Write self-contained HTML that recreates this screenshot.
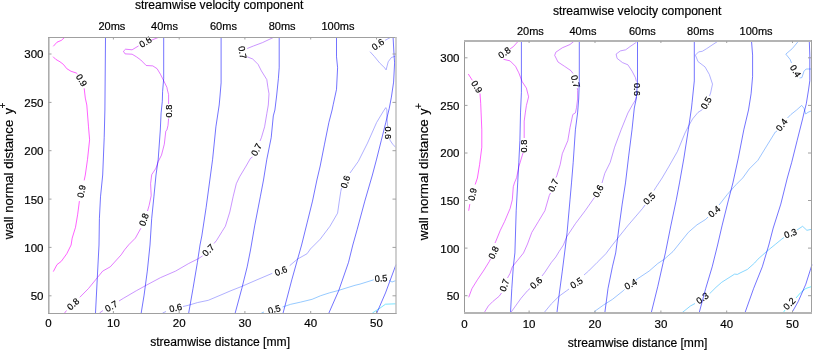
<!DOCTYPE html>
<html><head><meta charset="utf-8"><title>streamwise velocity component</title>
<style>html,body{margin:0;padding:0;background:#fff;width:813px;height:350px;overflow:hidden}svg{display:block}text{stroke:#000;stroke-width:.18px}</style>
</head><body>
<svg width="813" height="350" viewBox="0 0 813 350" font-family='"Liberation Sans", Arial, Helvetica, sans-serif' fill="#000"><polyline points="64.6,37.5 61.3,40.4 57.0,42.2 53.3,46.3" fill="none" stroke="#ff00ff" stroke-width="1.0" stroke-opacity="0.62" stroke-linejoin="round"/>
<polyline points="53.1,56.7 55.7,59.3 60.0,61.8 63.4,64.4 66.8,68.7 71.1,71.3 76.3,73.0 77.5,74.2" fill="none" stroke="#ff00ff" stroke-width="1.0" stroke-opacity="0.62" stroke-linejoin="round"/>
<text x="81.4" y="80.3" transform="rotate(58 81.4 80.3)" font-size="9.2" text-anchor="middle" dominant-baseline="central" stroke="#000" stroke-width="0.25">0.9</text>
<polyline points="84.2,88.3 85.3,98.1 86.8,105.0 88.5,126.8 89.6,139.8 87.5,159.4 85.3,175.0 84.2,180.4" fill="none" stroke="#ff00ff" stroke-width="1.0" stroke-opacity="0.62" stroke-linejoin="round"/>
<text x="81.6" y="191.3" transform="rotate(-78 81.6 191.3)" font-size="9.2" text-anchor="middle" dominant-baseline="central" stroke="#000" stroke-width="0.25">0.9</text>
<polyline points="79.4,201.1 77.7,214.2 75.5,227.3 72.2,238.1 71.1,245.0 66.8,253.7 61.3,261.3 57.0,264.6 53.3,271.6" fill="none" stroke="#ff00ff" stroke-width="1.0" stroke-opacity="0.62" stroke-linejoin="round"/>
<polyline points="158.2,37.5 152.0,40.0" fill="none" stroke="#d42aff" stroke-width="1.0" stroke-opacity="0.62" stroke-linejoin="round"/>
<text x="145.6" y="42.2" transform="rotate(-32 145.6 42.2)" font-size="9.2" text-anchor="middle" dominant-baseline="central" stroke="#000" stroke-width="0.25">0.8</text>
<polyline points="138.6,45.9 132.1,49.8 125.6,49.2 123.4,51.3 125.1,53.9 132.1,54.2 136.4,56.8 140.8,60.0 146.2,65.5 152.8,65.9 157.1,68.7 160.4,74.2 163.7,80.7 166.9,87.3 167.4,90.0 168.6,94.6 168.6,104.0" fill="none" stroke="#d42aff" stroke-width="1.0" stroke-opacity="0.62" stroke-linejoin="round"/>
<text x="169.1" y="111" transform="rotate(-90 169.1 111)" font-size="9.2" text-anchor="middle" dominant-baseline="central" stroke="#000" stroke-width="0.25">0.8</text>
<polyline points="168.6,118.5 168.0,125.4 166.9,130.0 165.8,131.1 164.3,144.2 161.5,155.1 158.2,161.6 156.0,168.1 151.7,174.7 150.6,183.7 151.2,195.7 149.1,205.5 147.5,211.0" fill="none" stroke="#d42aff" stroke-width="1.0" stroke-opacity="0.62" stroke-linejoin="round"/>
<text x="144.1" y="219.6" transform="rotate(-70 144.1 219.6)" font-size="9.2" text-anchor="middle" dominant-baseline="central" stroke="#000" stroke-width="0.25">0.8</text>
<polyline points="140.8,228.3 135.4,238.1 128.8,244.7 124.5,249.9 121.2,254.8 110.3,266.8 102.7,271.1 97.3,277.7 88.5,288.5 79.8,297.3" fill="none" stroke="#d42aff" stroke-width="1.0" stroke-opacity="0.62" stroke-linejoin="round"/>
<text x="73.3" y="304.2" transform="rotate(-42 73.3 304.2)" font-size="9.2" text-anchor="middle" dominant-baseline="central" stroke="#000" stroke-width="0.25">0.8</text>
<polyline points="66.5,310.5 64.6,313.0" fill="none" stroke="#d42aff" stroke-width="1.0" stroke-opacity="0.62" stroke-linejoin="round"/>
<polyline points="273.3,37.5 262.5,42.6 253.7,45.9 247.2,48.5" fill="none" stroke="#aa55ff" stroke-width="1.0" stroke-opacity="0.62" stroke-linejoin="round"/>
<text x="242.3" y="52.5" transform="rotate(80 242.3 52.5)" font-size="9.2" text-anchor="middle" dominant-baseline="central" stroke="#000" stroke-width="0.25">0.7</text>
<polyline points="247.2,56.8 252.7,59.0 258.1,64.4 261.4,70.9 266.8,79.6 267.9,87.3 269.0,93.8 268.3,105.0 266.8,113.7 264.6,126.8 261.4,137.7 260.0,141.0" fill="none" stroke="#aa55ff" stroke-width="1.0" stroke-opacity="0.62" stroke-linejoin="round"/>
<text x="256.6" y="149.6" transform="rotate(-62 256.6 149.6)" font-size="9.2" text-anchor="middle" dominant-baseline="central" stroke="#000" stroke-width="0.25">0.7</text>
<polyline points="252.5,157.0 250.5,158.3 246.1,166.0 239.6,176.8 236.3,183.7 233.1,196.8 229.8,212.0 225.4,226.2 222.0,231.6 216.5,240.5 214.0,243.5" fill="none" stroke="#aa55ff" stroke-width="1.0" stroke-opacity="0.62" stroke-linejoin="round"/>
<text x="208.5" y="250.3" transform="rotate(-45 208.5 250.3)" font-size="9.2" text-anchor="middle" dominant-baseline="central" stroke="#000" stroke-width="0.25">0.7</text>
<polyline points="202.6,255.9 198.3,258.7 188.7,263.5 175.6,271.1 160.4,277.7 146.2,285.3 136.4,290.7 123.4,298.3 119.0,301.0" fill="none" stroke="#aa55ff" stroke-width="1.0" stroke-opacity="0.62" stroke-linejoin="round"/>
<text x="111.4" y="306.4" transform="rotate(-30 111.4 306.4)" font-size="9.2" text-anchor="middle" dominant-baseline="central" stroke="#000" stroke-width="0.25">0.7</text>
<polyline points="103.0,310.5 99.5,313.0" fill="none" stroke="#aa55ff" stroke-width="1.0" stroke-opacity="0.62" stroke-linejoin="round"/>
<polyline points="390.4,37.5 385.0,40.4" fill="none" stroke="#8080ff" stroke-width="1.0" stroke-opacity="0.62" stroke-linejoin="round"/>
<text x="378.1" y="44.6" transform="rotate(-35 378.1 44.6)" font-size="9.2" text-anchor="middle" dominant-baseline="central" stroke="#000" stroke-width="0.25">0.6</text>
<polyline points="370.0,51.7 374.3,56.4 379.6,62.9 385.0,68.2 386.1,69.9 388.2,61.8 391.4,57.5 396.0,56.0" fill="none" stroke="#8080ff" stroke-width="1.0" stroke-opacity="0.62" stroke-linejoin="round"/>
<polyline points="396.0,147.7 392.7,144.2 390.4,140.8 389.5,139.0" fill="none" stroke="#8080ff" stroke-width="1.0" stroke-opacity="0.62" stroke-linejoin="round"/>
<text x="388.1" y="132.8" transform="rotate(90 388.1 132.8)" font-size="9.2" text-anchor="middle" dominant-baseline="central" stroke="#000" stroke-width="0.25">0.6</text>
<polyline points="387.5,126.0 386.9,115.6 386.9,109.9 385.8,107.6 383.5,111.0 376.6,122.5 367.5,143.1 358.3,161.4 350.0,173.0" fill="none" stroke="#8080ff" stroke-width="1.0" stroke-opacity="0.62" stroke-linejoin="round"/>
<text x="345.5" y="182" transform="rotate(-70 345.5 182)" font-size="9.2" text-anchor="middle" dominant-baseline="central" stroke="#000" stroke-width="0.25">0.6</text>
<polyline points="341.5,188.0 340.8,191.3 339.3,201.1 337.6,213.1 330.0,226.2 320.2,239.2 310.4,249.0 307.1,253.7 297.3,259.2 289.7,265.7" fill="none" stroke="#8080ff" stroke-width="1.0" stroke-opacity="0.62" stroke-linejoin="round"/>
<text x="281" y="271.1" transform="rotate(-22 281 271.1)" font-size="9.2" text-anchor="middle" dominant-baseline="central" stroke="#000" stroke-width="0.25">0.6</text>
<polyline points="272.3,273.3 257.0,279.8 241.8,286.4 230.9,290.7 222.0,294.5 208.3,300.3 197.4,302.6 188.7,305.2 183.0,306.5" fill="none" stroke="#8080ff" stroke-width="1.0" stroke-opacity="0.62" stroke-linejoin="round"/>
<text x="175.6" y="308.1" transform="rotate(-12 175.6 308.1)" font-size="9.2" text-anchor="middle" dominant-baseline="central" stroke="#000" stroke-width="0.25">0.6</text>
<polyline points="166.0,311.5 162.6,313.0" fill="none" stroke="#8080ff" stroke-width="1.0" stroke-opacity="0.62" stroke-linejoin="round"/>
<polyline points="389.0,280.3 392.0,282.0 396.0,280.5" fill="none" stroke="#55aaff" stroke-width="1.0" stroke-opacity="0.62" stroke-linejoin="round"/>
<text x="381" y="278.5" transform="rotate(-5 381 278.5)" font-size="9.2" text-anchor="middle" dominant-baseline="central" stroke="#000" stroke-width="0.25">0.5</text>
<polyline points="373.7,279.8 360.0,284.1 355.0,285.3 337.6,290.7 329.3,292.9 320.7,295.7 312.1,299.3 300.7,302.1 290.7,304.3 282.5,307.0" fill="none" stroke="#55aaff" stroke-width="1.0" stroke-opacity="0.62" stroke-linejoin="round"/>
<text x="274.3" y="309.6" transform="rotate(-15 274.3 309.6)" font-size="9.2" text-anchor="middle" dominant-baseline="central" stroke="#000" stroke-width="0.25">0.5</text>
<polyline points="264.0,312.0 261.4,313.0" fill="none" stroke="#55aaff" stroke-width="1.0" stroke-opacity="0.62" stroke-linejoin="round"/>
<polyline points="396.0,303.8 385.5,304.2 380.0,308.1 372.4,313.0" fill="none" stroke="#2ad4ff" stroke-width="1.0" stroke-opacity="0.62" stroke-linejoin="round"/>
<polyline points="105.5,37.5 104.9,110.0 104.2,137.7 102.7,175.0 100.5,196.8 99.4,218.5 99.0,245.0 97.3,277.7 95.5,313.0" fill="none" stroke="#0000ff" stroke-width="1.0" stroke-opacity="0.55" stroke-linejoin="round"/>
<polyline points="163.7,37.5 163.7,78.5 162.6,91.6 162.3,101.4 161.1,112.9 160.3,130.0 158.2,159.4 156.0,175.0 153.9,196.8 151.7,218.5 150.0,245.0 147.3,271.1 144.1,295.1 141.2,313.0" fill="none" stroke="#0000ff" stroke-width="1.0" stroke-opacity="0.55" stroke-linejoin="round"/>
<polyline points="221.1,37.5 221.1,82.9 220.0,96.0 219.2,105.0 215.9,126.8 212.6,159.4 210.5,175.0 206.1,207.7 201.8,236.0 200.0,245.0 197.4,262.4 193.0,288.5 188.7,313.0" fill="none" stroke="#0000ff" stroke-width="1.0" stroke-opacity="0.55" stroke-linejoin="round"/>
<polyline points="279.2,37.5 279.2,67.7 278.4,78.5 276.6,96.0 274.9,110.0 273.3,115.9 271.2,137.7 266.8,159.4 263.5,180.0 260.3,196.8 254.8,225.1 250.5,250.0 247.2,266.8 241.8,288.5 235.2,313.0" fill="none" stroke="#0000ff" stroke-width="1.0" stroke-opacity="0.55" stroke-linejoin="round"/>
<polyline points="336.5,37.5 336.5,56.8 337.6,67.7 336.5,89.4 333.2,104.7 332.1,110.0 328.9,122.4 324.5,144.2 320.2,166.0 316.9,180.0 312.5,201.1 307.1,222.9 301.6,245.0 297.3,260.2 291.8,279.8 283.1,313.0" fill="none" stroke="#0000ff" stroke-width="1.0" stroke-opacity="0.55" stroke-linejoin="round"/>
<polyline points="393.1,37.5 394.0,54.3 394.6,62.9 393.6,82.1 391.4,97.1 389.2,108.7 385.8,122.5 381.2,140.8 376.6,159.1 372.4,175.0 364.8,201.1 357.2,229.4 352.8,245.0 348.5,262.4 338.7,290.7 328.9,313.0" fill="none" stroke="#0000ff" stroke-width="1.0" stroke-opacity="0.55" stroke-linejoin="round"/>
<polyline points="396.0,264.6 385.5,292.9 376.8,313.0" fill="none" stroke="#0000ff" stroke-width="1.0" stroke-opacity="0.55" stroke-linejoin="round"/>
<polyline points="468.3,74.0 472.3,80.3" fill="none" stroke="#ff00ff" stroke-width="1.0" stroke-opacity="0.62" stroke-linejoin="round"/>
<text x="476.6" y="86.8" transform="rotate(58 476.6 86.8)" font-size="9.2" text-anchor="middle" dominant-baseline="central" stroke="#000" stroke-width="0.25">0.9</text>
<polyline points="480.0,93.5 480.7,103.3 481.1,112.9 481.8,129.8 481.8,147.2 479.6,164.6 477.4,178.0 475.2,184.5" fill="none" stroke="#ff00ff" stroke-width="1.0" stroke-opacity="0.62" stroke-linejoin="round"/>
<text x="472.6" y="194.3" transform="rotate(-78 472.6 194.3)" font-size="9.2" text-anchor="middle" dominant-baseline="central" stroke="#000" stroke-width="0.25">0.9</text>
<polyline points="469.8,204.1 468.7,210.7" fill="none" stroke="#ff00ff" stroke-width="1.0" stroke-opacity="0.62" stroke-linejoin="round"/>
<polyline points="518.4,41.0 513.3,46.7 510.1,48.9" fill="none" stroke="#df20ff" stroke-width="1.0" stroke-opacity="0.62" stroke-linejoin="round"/>
<text x="504.6" y="52.8" transform="rotate(-35 504.6 52.8)" font-size="9.2" text-anchor="middle" dominant-baseline="central" stroke="#000" stroke-width="0.25">0.8</text>
<polyline points="503.5,59.3 510.1,60.9 515.5,66.3 518.8,72.8 522.1,81.5 526.4,88.1 528.6,96.8 526.4,105.5 525.3,112.9 524.2,121.1 524.2,138.0" fill="none" stroke="#df20ff" stroke-width="1.0" stroke-opacity="0.62" stroke-linejoin="round"/>
<text x="524.2" y="146.1" transform="rotate(-90 524.2 146.1)" font-size="9.2" text-anchor="middle" dominant-baseline="central" stroke="#000" stroke-width="0.25">0.8</text>
<polyline points="523.0,153.0 522.1,155.9 518.8,166.8 516.6,177.7 514.4,183.0 513.3,186.7 512.3,199.8 510.1,208.5 504.6,221.5 500.3,230.3 495.9,241.1 495.0,243.0" fill="none" stroke="#df20ff" stroke-width="1.0" stroke-opacity="0.62" stroke-linejoin="round"/>
<text x="493.7" y="252.6" transform="rotate(-65 493.7 252.6)" font-size="9.2" text-anchor="middle" dominant-baseline="central" stroke="#000" stroke-width="0.25">0.8</text>
<polyline points="490.5,259.0 489.4,261.3 484.0,270.0 477.4,279.8 472.0,288.5 468.7,297.3" fill="none" stroke="#df20ff" stroke-width="1.0" stroke-opacity="0.62" stroke-linejoin="round"/>
<polyline points="574.3,41.0 570.0,44.5 562.3,47.8 555.8,52.2 554.7,55.4 558.0,62.0 564.5,66.3 571.0,70.7 573.0,73.5" fill="none" stroke="#bf40ff" stroke-width="1.0" stroke-opacity="0.62" stroke-linejoin="round"/>
<text x="575.2" y="81.5" transform="rotate(75 575.2 81.5)" font-size="9.2" text-anchor="middle" dominant-baseline="central" stroke="#000" stroke-width="0.25">0.7</text>
<polyline points="577.3,88.0 577.6,90.3 577.6,99.0 576.5,107.7 575.4,112.9 572.8,114.5 570.0,127.6 567.8,140.7 562.3,153.7 560.2,164.6 556.9,175.5 556.0,177.5" fill="none" stroke="#bf40ff" stroke-width="1.0" stroke-opacity="0.62" stroke-linejoin="round"/>
<text x="553.4" y="185.5" transform="rotate(-65 553.4 185.5)" font-size="9.2" text-anchor="middle" dominant-baseline="central" stroke="#000" stroke-width="0.25">0.7</text>
<polyline points="550.5,193.0 549.3,195.4 544.9,210.7 538.4,221.5 531.8,232.4 527.5,244.0 523.5,253.0 517.7,260.2 512.3,266.8 510.1,273.3 507.5,278.0" fill="none" stroke="#bf40ff" stroke-width="1.0" stroke-opacity="0.62" stroke-linejoin="round"/>
<text x="504.6" y="285.3" transform="rotate(-70 504.6 285.3)" font-size="9.2" text-anchor="middle" dominant-baseline="central" stroke="#000" stroke-width="0.25">0.7</text>
<polyline points="501.5,293.0 499.2,296.2 492.7,301.6 488.3,306.0 484.0,313.0" fill="none" stroke="#bf40ff" stroke-width="1.0" stroke-opacity="0.62" stroke-linejoin="round"/>
<polyline points="636.4,42.3 630.0,46.6 625.7,49.8 620.4,50.9 616.1,54.1 617.1,58.4 622.5,62.6 627.9,64.8 632.1,71.2 635.4,77.6 636.4,81.5" fill="none" stroke="#9f60ff" stroke-width="1.0" stroke-opacity="0.62" stroke-linejoin="round"/>
<text x="636.9" y="89.4" transform="rotate(90 636.9 89.4)" font-size="9.2" text-anchor="middle" dominant-baseline="central" stroke="#000" stroke-width="0.25">0.6</text>
<polyline points="636.2,97.0 635.4,100.1 632.1,105.5 627.9,113.0 625.5,118.9 621.1,129.8 614.6,147.2 610.2,162.4 604.8,173.3 602.0,183.0" fill="none" stroke="#9f60ff" stroke-width="1.0" stroke-opacity="0.62" stroke-linejoin="round"/>
<text x="598.3" y="191.1" transform="rotate(-62 598.3 191.1)" font-size="9.2" text-anchor="middle" dominant-baseline="central" stroke="#000" stroke-width="0.25">0.6</text>
<polyline points="594.5,197.5 592.8,199.8 585.2,210.7 575.4,223.7 566.7,236.8 563.4,245.0 559.1,251.5 555.8,257.0 551.4,262.4 544.9,272.2 542.0,276.0" fill="none" stroke="#9f60ff" stroke-width="1.0" stroke-opacity="0.62" stroke-linejoin="round"/>
<text x="536.2" y="283.1" transform="rotate(-42 536.2 283.1)" font-size="9.2" text-anchor="middle" dominant-baseline="central" stroke="#000" stroke-width="0.25">0.6</text>
<polyline points="530.0,288.5 527.5,290.7 521.0,298.3 515.5,306.0 510.5,313.0" fill="none" stroke="#9f60ff" stroke-width="1.0" stroke-opacity="0.62" stroke-linejoin="round"/>
<polyline points="718.3,41.0 713.0,44.4 706.6,48.7 702.3,51.3 698.6,51.9 695.4,55.1 698.0,61.6 705.0,66.9 709.3,74.4 712.5,84.1 710.6,93.0 709.5,96.0" fill="none" stroke="#8080ff" stroke-width="1.0" stroke-opacity="0.62" stroke-linejoin="round"/>
<text x="706.3" y="103" transform="rotate(-60 706.3 103)" font-size="9.2" text-anchor="middle" dominant-baseline="central" stroke="#000" stroke-width="0.25">0.5</text>
<polyline points="702.5,109.5 698.0,112.4 692.6,118.9 688.3,126.5 685.0,133.0 677.4,151.5 668.7,166.8 662.1,178.0 655.6,187.8 654.0,190.5" fill="none" stroke="#8080ff" stroke-width="1.0" stroke-opacity="0.62" stroke-linejoin="round"/>
<text x="649.5" y="198.7" transform="rotate(-45 649.5 198.7)" font-size="9.2" text-anchor="middle" dominant-baseline="central" stroke="#000" stroke-width="0.25">0.5</text>
<polyline points="645.0,205.0 642.5,208.5 636.0,216.1 627.6,225.9 618.9,236.8 612.4,245.0 605.9,253.7 597.2,262.4 588.5,271.1 584.0,275.0" fill="none" stroke="#8080ff" stroke-width="1.0" stroke-opacity="0.62" stroke-linejoin="round"/>
<text x="576.5" y="283.1" transform="rotate(-32 576.5 283.1)" font-size="9.2" text-anchor="middle" dominant-baseline="central" stroke="#000" stroke-width="0.25">0.5</text>
<polyline points="569.0,289.0 566.7,290.7 559.1,296.2 551.4,303.8 543.8,313.0" fill="none" stroke="#8080ff" stroke-width="1.0" stroke-opacity="0.62" stroke-linejoin="round"/>
<polyline points="798.6,41.0 792.2,48.7 785.8,54.1 790.1,59.4 791.5,63.0" fill="none" stroke="#609fff" stroke-width="1.0" stroke-opacity="0.62" stroke-linejoin="round"/>
<text x="795.4" y="71.2" transform="rotate(58 795.4 71.2)" font-size="9.2" text-anchor="middle" dominant-baseline="central" stroke="#000" stroke-width="0.25">0.4</text>
<polyline points="799.5,78.0 801.9,77.6 804.0,71.2 806.1,69.0 812.0,69.0" fill="none" stroke="#609fff" stroke-width="1.0" stroke-opacity="0.62" stroke-linejoin="round"/>
<polyline points="812.0,110.6 808.0,112.3 805.7,114.0 804.0,108.3 801.7,105.4 796.6,110.0 790.8,114.6 787.5,118.0" fill="none" stroke="#609fff" stroke-width="1.0" stroke-opacity="0.62" stroke-linejoin="round"/>
<text x="781.9" y="125" transform="rotate(-52 781.9 125)" font-size="9.2" text-anchor="middle" dominant-baseline="central" stroke="#000" stroke-width="0.25">0.4</text>
<polyline points="777.0,131.0 775.3,132.0 766.6,146.1 757.9,160.3 749.2,169.0 742.7,178.0 736.2,184.5 727.4,194.3 719.8,204.1 719.0,205.0" fill="none" stroke="#609fff" stroke-width="1.0" stroke-opacity="0.62" stroke-linejoin="round"/>
<text x="714.4" y="211.7" transform="rotate(-40 714.4 211.7)" font-size="9.2" text-anchor="middle" dominant-baseline="central" stroke="#000" stroke-width="0.25">0.4</text>
<polyline points="708.0,217.0 705.7,219.4 697.0,224.8 688.3,232.4 683.9,237.9 679.0,244.0 673.0,251.5 664.3,259.2 657.8,263.5 649.1,271.1 636.0,279.8 637.0,280.0" fill="none" stroke="#609fff" stroke-width="1.0" stroke-opacity="0.62" stroke-linejoin="round"/>
<text x="630.9" y="284.2" transform="rotate(-30 630.9 284.2)" font-size="9.2" text-anchor="middle" dominant-baseline="central" stroke="#000" stroke-width="0.25">0.4</text>
<polyline points="624.5,289.5 623.3,290.7 612.4,299.4 603.7,304.9 596.1,310.3 593.0,313.0" fill="none" stroke="#609fff" stroke-width="1.0" stroke-opacity="0.62" stroke-linejoin="round"/>
<polyline points="812.0,229.2 806.9,230.3 802.6,226.3 798.2,229.2 797.0,230.0" fill="none" stroke="#40bfff" stroke-width="1.0" stroke-opacity="0.62" stroke-linejoin="round"/>
<text x="790.6" y="233.5" transform="rotate(-20 790.6 233.5)" font-size="9.2" text-anchor="middle" dominant-baseline="central" stroke="#000" stroke-width="0.25">0.3</text>
<polyline points="784.0,237.5 781.9,239.0 775.3,244.4 766.6,251.5 757.9,259.2 754.6,263.0 747.4,269.4 740.0,273.0 737.4,274.4 734.6,274.1 721.7,282.3 716.0,287.3 709.6,293.7" fill="none" stroke="#40bfff" stroke-width="1.0" stroke-opacity="0.62" stroke-linejoin="round"/>
<text x="702.4" y="298.3" transform="rotate(-35 702.4 298.3)" font-size="9.2" text-anchor="middle" dominant-baseline="central" stroke="#000" stroke-width="0.25">0.3</text>
<polyline points="695.0,303.5 690.4,306.0 681.7,313.0" fill="none" stroke="#40bfff" stroke-width="1.0" stroke-opacity="0.62" stroke-linejoin="round"/>
<polyline points="812.0,286.4 805.8,288.5 800.4,292.9 796.0,298.0" fill="none" stroke="#20dfff" stroke-width="1.0" stroke-opacity="0.62" stroke-linejoin="round"/>
<text x="789.5" y="303.8" transform="rotate(-45 789.5 303.8)" font-size="9.2" text-anchor="middle" dominant-baseline="central" stroke="#000" stroke-width="0.25">0.2</text>
<polyline points="785.0,310.0 783.0,313.0" fill="none" stroke="#20dfff" stroke-width="1.0" stroke-opacity="0.62" stroke-linejoin="round"/>
<polyline points="521.4,41.0 521.4,92.4 520.5,112.9 519.9,140.7 518.8,162.4 517.7,182.9 516.2,210.7 514.9,252.9 513.3,266.8 511.8,288.5 510.5,313.0" fill="none" stroke="#0000ff" stroke-width="1.0" stroke-opacity="0.55" stroke-linejoin="round"/>
<polyline points="579.3,41.0 579.3,81.5 578.7,99.0 577.6,112.9 575.4,129.8 573.2,162.4 571.5,182.9 570.0,199.8 567.1,232.4 565.6,245.0 562.3,271.1 559.1,295.1 556.9,313.0" fill="none" stroke="#0000ff" stroke-width="1.0" stroke-opacity="0.55" stroke-linejoin="round"/>
<polyline points="637.5,41.0 637.5,80.9 636.4,98.0 634.3,108.0 632.0,129.8 628.7,155.9 625.5,182.9 622.2,204.1 618.9,228.1 615.7,252.9 612.4,266.8 608.0,288.5 604.8,313.0" fill="none" stroke="#0000ff" stroke-width="1.0" stroke-opacity="0.55" stroke-linejoin="round"/>
<polyline points="694.3,41.0 694.3,80.9 692.1,102.3 691.5,108.0 688.3,129.8 683.9,158.1 679.5,182.9 676.3,199.8 670.8,225.9 665.4,252.9 663.2,262.4 657.8,286.4 651.2,313.0" fill="none" stroke="#0000ff" stroke-width="1.0" stroke-opacity="0.55" stroke-linejoin="round"/>
<polyline points="751.5,41.0 752.6,55.1 752.6,76.5 751.1,93.7 748.5,110.0 743.8,129.8 738.3,158.1 732.9,182.9 728.5,199.8 722.0,225.9 717.6,245.0 712.2,266.8 705.7,288.5 699.1,313.0" fill="none" stroke="#0000ff" stroke-width="1.0" stroke-opacity="0.55" stroke-linejoin="round"/>
<polyline points="809.3,41.0 809.8,55.1 809.8,80.8 808.5,90.0 806.3,103.7 804.0,112.8 802.6,118.9 797.1,140.7 791.7,162.4 787.3,178.0 780.8,204.1 773.2,228.1 768.8,245.0 762.3,266.8 753.6,288.5 744.9,313.0" fill="none" stroke="#0000ff" stroke-width="1.0" stroke-opacity="0.55" stroke-linejoin="round"/>
<polyline points="812.0,264.6 805.8,284.2 798.2,301.6 791.7,313.0" fill="none" stroke="#0000ff" stroke-width="1.0" stroke-opacity="0.55" stroke-linejoin="round"/>
<line x1="48.8" y1="37" x2="48.8" y2="314" stroke="#a8a8a8" stroke-width="1.5"/>
<line x1="48" y1="37.5" x2="396.5" y2="37.5" stroke="#a0a0a0" stroke-width="1"/>
<line x1="396" y1="37" x2="396" y2="314" stroke="#c4c4c4" stroke-width="1.6"/>
<line x1="48" y1="313.5" x2="396.5" y2="313.5" stroke="#a0a0a0" stroke-width="1"/>
<line x1="48.5" y1="295.8" x2="51.5" y2="295.8" stroke="#a0a0a0"/>
<line x1="396" y1="295.8" x2="392.5" y2="295.8" stroke="#a0a0a0"/>
<text x="43.5" y="300.2" font-size="11.5" text-anchor="end">50</text>
<line x1="48.5" y1="247.4" x2="51.5" y2="247.4" stroke="#a0a0a0"/>
<line x1="396" y1="247.4" x2="392.5" y2="247.4" stroke="#a0a0a0"/>
<text x="43.5" y="251.8" font-size="11.5" text-anchor="end">100</text>
<line x1="48.5" y1="199.1" x2="51.5" y2="199.1" stroke="#a0a0a0"/>
<line x1="396" y1="199.1" x2="392.5" y2="199.1" stroke="#a0a0a0"/>
<text x="43.5" y="203.5" font-size="11.5" text-anchor="end">150</text>
<line x1="48.5" y1="150.7" x2="51.5" y2="150.7" stroke="#a0a0a0"/>
<line x1="396" y1="150.7" x2="392.5" y2="150.7" stroke="#a0a0a0"/>
<text x="43.5" y="155.1" font-size="11.5" text-anchor="end">200</text>
<line x1="48.5" y1="102.4" x2="51.5" y2="102.4" stroke="#a0a0a0"/>
<line x1="396" y1="102.4" x2="392.5" y2="102.4" stroke="#a0a0a0"/>
<text x="43.5" y="106.8" font-size="11.5" text-anchor="end">250</text>
<line x1="48.5" y1="54.0" x2="51.5" y2="54.0" stroke="#a0a0a0"/>
<line x1="396" y1="54.0" x2="392.5" y2="54.0" stroke="#a0a0a0"/>
<text x="43.5" y="58.4" font-size="11.5" text-anchor="end">300</text>
<text x="48.5" y="327.1" font-size="11.5" text-anchor="middle">0</text>
<line x1="113.4" y1="313.5" x2="113.4" y2="311.0" stroke="#a0a0a0"/>
<line x1="113.4" y1="37.5" x2="113.4" y2="39.5" stroke="#a0a0a0"/>
<text x="113.4" y="327.1" font-size="11.5" text-anchor="middle">10</text>
<line x1="179.2" y1="313.5" x2="179.2" y2="311.0" stroke="#a0a0a0"/>
<line x1="179.2" y1="37.5" x2="179.2" y2="39.5" stroke="#a0a0a0"/>
<text x="179.2" y="327.1" font-size="11.5" text-anchor="middle">20</text>
<line x1="244.9" y1="313.5" x2="244.9" y2="311.0" stroke="#a0a0a0"/>
<line x1="244.9" y1="37.5" x2="244.9" y2="39.5" stroke="#a0a0a0"/>
<text x="244.9" y="327.1" font-size="11.5" text-anchor="middle">30</text>
<line x1="310.7" y1="313.5" x2="310.7" y2="311.0" stroke="#a0a0a0"/>
<line x1="310.7" y1="37.5" x2="310.7" y2="39.5" stroke="#a0a0a0"/>
<text x="310.7" y="327.1" font-size="11.5" text-anchor="middle">40</text>
<line x1="376.5" y1="313.5" x2="376.5" y2="311.0" stroke="#a0a0a0"/>
<line x1="376.5" y1="37.5" x2="376.5" y2="39.5" stroke="#a0a0a0"/>
<text x="376.5" y="327.1" font-size="11.5" text-anchor="middle">50</text>
<line x1="464.5" y1="40" x2="464.5" y2="314" stroke="#989898" stroke-width="1"/>
<line x1="464" y1="41" x2="812" y2="41" stroke="#b4b4b4" stroke-width="2"/>
<line x1="811.5" y1="40" x2="811.5" y2="314" stroke="#a0a0a0" stroke-width="1"/>
<line x1="464" y1="313" x2="812" y2="313" stroke="#b4b4b4" stroke-width="2"/>
<line x1="464.5" y1="295.7" x2="467.5" y2="295.7" stroke="#a0a0a0"/>
<line x1="811.5" y1="295.7" x2="808.0" y2="295.7" stroke="#a0a0a0"/>
<text x="459.5" y="300.1" font-size="11.5" text-anchor="end">50</text>
<line x1="464.5" y1="248.1" x2="467.5" y2="248.1" stroke="#a0a0a0"/>
<line x1="811.5" y1="248.1" x2="808.0" y2="248.1" stroke="#a0a0a0"/>
<text x="459.5" y="252.5" font-size="11.5" text-anchor="end">100</text>
<line x1="464.5" y1="200.5" x2="467.5" y2="200.5" stroke="#a0a0a0"/>
<line x1="811.5" y1="200.5" x2="808.0" y2="200.5" stroke="#a0a0a0"/>
<text x="459.5" y="204.9" font-size="11.5" text-anchor="end">150</text>
<line x1="464.5" y1="153.0" x2="467.5" y2="153.0" stroke="#a0a0a0"/>
<line x1="811.5" y1="153.0" x2="808.0" y2="153.0" stroke="#a0a0a0"/>
<text x="459.5" y="157.4" font-size="11.5" text-anchor="end">200</text>
<line x1="464.5" y1="105.4" x2="467.5" y2="105.4" stroke="#a0a0a0"/>
<line x1="811.5" y1="105.4" x2="808.0" y2="105.4" stroke="#a0a0a0"/>
<text x="459.5" y="109.8" font-size="11.5" text-anchor="end">250</text>
<line x1="464.5" y1="57.8" x2="467.5" y2="57.8" stroke="#a0a0a0"/>
<line x1="811.5" y1="57.8" x2="808.0" y2="57.8" stroke="#a0a0a0"/>
<text x="459.5" y="62.2" font-size="11.5" text-anchor="end">300</text>
<text x="464.5" y="327.6" font-size="11.5" text-anchor="middle">0</text>
<line x1="529.1" y1="313" x2="529.1" y2="310.5" stroke="#a0a0a0"/>
<line x1="529.1" y1="41" x2="529.1" y2="43" stroke="#a0a0a0"/>
<text x="529.1" y="327.6" font-size="11.5" text-anchor="middle">10</text>
<line x1="595.0" y1="313" x2="595.0" y2="310.5" stroke="#a0a0a0"/>
<line x1="595.0" y1="41" x2="595.0" y2="43" stroke="#a0a0a0"/>
<text x="595.0" y="327.6" font-size="11.5" text-anchor="middle">20</text>
<line x1="660.9" y1="313" x2="660.9" y2="310.5" stroke="#a0a0a0"/>
<line x1="660.9" y1="41" x2="660.9" y2="43" stroke="#a0a0a0"/>
<text x="660.9" y="327.6" font-size="11.5" text-anchor="middle">30</text>
<line x1="726.7" y1="313" x2="726.7" y2="310.5" stroke="#a0a0a0"/>
<line x1="726.7" y1="41" x2="726.7" y2="43" stroke="#a0a0a0"/>
<text x="726.7" y="327.6" font-size="11.5" text-anchor="middle">40</text>
<line x1="792.5" y1="313" x2="792.5" y2="310.5" stroke="#a0a0a0"/>
<line x1="792.5" y1="41" x2="792.5" y2="43" stroke="#a0a0a0"/>
<text x="792.5" y="327.6" font-size="11.5" text-anchor="middle">50</text>
<text x="134.9" y="8.9" font-size="12" text-anchor="start" textLength="168.5" lengthAdjust="spacingAndGlyphs">streamwise velocity component</text>
<text x="552.9" y="14.8" font-size="12" text-anchor="start" textLength="168.6" lengthAdjust="spacingAndGlyphs">streamwise velocity component</text>
<text x="98.4" y="29.8" font-size="11" text-anchor="start" >20ms</text>
<text x="151.1" y="29.8" font-size="11" text-anchor="start" >40ms</text>
<text x="210.0" y="29.8" font-size="11" text-anchor="start" >60ms</text>
<text x="268.7" y="29.8" font-size="11" text-anchor="start" >80ms</text>
<text x="321.4" y="29.8" font-size="11" text-anchor="start" >100ms</text>
<text x="516.9" y="35.4" font-size="11" text-anchor="start" >20ms</text>
<text x="569.5" y="35.4" font-size="11" text-anchor="start" >40ms</text>
<text x="628.9" y="35.4" font-size="11" text-anchor="start" >60ms</text>
<text x="687.1" y="35.4" font-size="11" text-anchor="start" >80ms</text>
<text x="739.6" y="35.4" font-size="11" text-anchor="start" >100ms</text>
<text x="150.2" y="345.7" font-size="12" text-anchor="start" textLength="139.8" lengthAdjust="spacingAndGlyphs">streamwise distance [mm]</text>
<text x="567.8" y="346.5" font-size="12" text-anchor="start" textLength="139.5" lengthAdjust="spacingAndGlyphs">streamwise distance [mm]</text>
<text transform="translate(12.9 239.2) rotate(-90)" font-size="12.5"><tspan textLength="119.5" lengthAdjust="spacingAndGlyphs">wall normal distance</tspan><tspan dx="5.5">y</tspan><tspan font-size="10" dy="-7" dx="-0.5">+</tspan></text>
<text transform="translate(428.4 240.2) rotate(-90)" font-size="12.5"><tspan textLength="121" lengthAdjust="spacingAndGlyphs">wall normal distance</tspan><tspan dx="4.5">y</tspan><tspan font-size="10" dy="-6.2" dx="-0.5">+</tspan></text></svg>
</body></html>
